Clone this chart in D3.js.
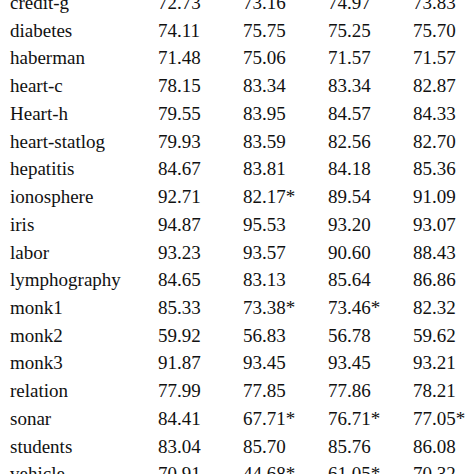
<!DOCTYPE html>
<html><head><meta charset="utf-8">
<script src="https://cdn.jsdelivr.net/npm/d3@7"></script>
<style>body{margin:0;background:#fff}</style>
</head><body>
<div id="chart"></div>
<script>
let datasets = ["credit-g", "diabetes", "haberman", "heart-c", "Heart-h", "heart-statlog", "hepatitis", "ionosphere", "iris", "labor", "lymphography", "monk1", "monk2", "monk3", "relation", "sonar", "students", "vehicle"]
let col1 = ["72.73", "74.11", "71.48", "78.15", "79.55", "79.93", "84.67", "92.71", "94.87", "93.23", "84.65", "85.33", "59.92", "91.87", "77.99", "84.41", "83.04", "70.91"]
let col2 = ["73.16", "75.75", "75.06", "83.34", "83.95", "83.59", "83.81", "82.17*", "95.53", "93.57", "83.13", "73.38*", "56.83", "93.45", "77.85", "67.71*", "85.70", "44.68*"]
let col3 = ["74.97", "75.25", "71.57", "83.34", "84.57", "82.56", "84.18", "89.54", "93.20", "90.60", "85.64", "73.46*", "56.78", "93.45", "77.86", "76.71*", "85.76", "61.05*"]
let col4 = ["73.83", "75.70", "71.57", "82.87", "84.33", "82.70", "85.36", "91.09", "93.07", "88.43", "86.86", "82.32", "59.62", "93.21", "78.21", "77.05*", "86.08", "70.32"]

let width = 474, height = 474
let svg = d3.select("#chart").append("svg").attr("width", width).attr("height", height)

// row centres (table is cropped top and bottom)
let y = d3.scalePoint().domain(datasets).range([2.3, 473.7])
// column left edges
let x = d3.scaleOrdinal().domain(["name", "c1", "c2", "c3", "c4"]).range([10, 158, 243, 328, 413])

let cols = [["name", datasets], ["c1", col1], ["c2", col2], ["c3", col3], ["c4", col4]]
cols.forEach(([key, vals]) => {
    svg.append("g").selectAll("text")
        .data(vals).join("text")
        .attr("x", x(key))
        .attr("y", (d, i) => y(datasets[i]))
        .attr("dy", "0.35em")
        .style("font-family", "'Liberation Serif', 'Times New Roman', serif")
        .style("font-size", "19px")
        .attr("fill", "#111")
        .text(d => d)
})
</script>
</body></html>
